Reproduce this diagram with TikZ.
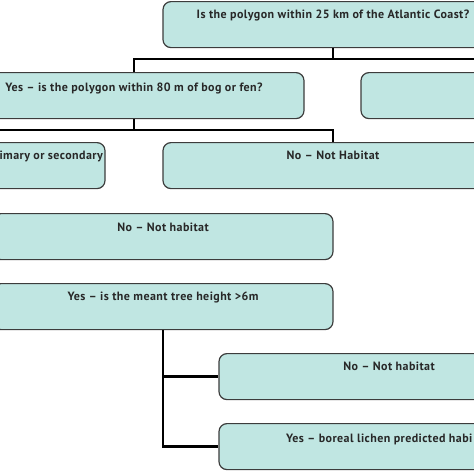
\documentclass[tikz,border=0pt]{standalone}
\usepackage{fontspec}
\setmainfont{PT Sans}[LetterSpace=3.5]
\definecolor{boxfill}{RGB}{192,230,226}
\definecolor{boxline}{RGB}{60,60,60}
\definecolor{txt}{RGB}{40,40,40}
\begin{document}
\begin{tikzpicture}[x=1pt,y=-1pt,
  box/.style={draw=boxline,line width=1.2pt,fill=boxfill,rounded corners=8pt,
    minimum width=340pt,minimum height=46pt,inner sep=0pt,anchor=north},
  lbl/.style={font=\bfseries\fontsize{12}{14}\selectfont,text=txt,inner sep=0pt},
  conn/.style={draw=black,line width=2.5pt}]
\useasboundingbox (0,0) rectangle (474,474);
\clip (0,0) rectangle (474,474);
% boxes
\node[box] (q1) at (333,1) {};
\node[box] (a2) at (134,72) {};
\node[box] (b2) at (531,72) {};
\node[box] (a3) at (-65,142) {};
\node[box] (b3) at (333,142) {};
\node[box] (a4) at (163,213) {};
\node[box] (a5) at (163,283) {};
\node[box] (b6) at (389,353) {};
\node[box] (b7) at (389,423) {};
% labels
\node[lbl,anchor=base] (t1) at (333,18) {Is the polygon within 25 km of the Atlantic Coast?};
\node[lbl,anchor=base] (t2) at (134,91) {Yes -- is the polygon within 80 m of bog or fen?};
\node[lbl,anchor=base east] (t3) at (103,159) {imary or secondary};
\node[lbl,anchor=base] (t4) at (333,159) {No -- Not Habitat};
\node[lbl,anchor=base] (t5) at (163,231) {No -- Not habitat};
\node[lbl,anchor=base] (t6) at (163,300) {Yes -- is the meant tree height {>}6m};
\node[lbl,anchor=base] (t7) at (389,370) {No -- Not habitat};
\node[lbl,anchor=base west] (t8) at (286,442) {Yes -- boreal lichen predicted habi};
% junctions
\coordinate (j1) at (333,59);
\coordinate (j2) at (134,130);
% connectors
\draw[conn] (q1.south) -- (j1);
\draw[conn] (a2.north) -- (a2.north |- j1) -- (b2.north |- j1) -- (b2.north);
\draw[conn] (a2.south) -- (j2);
\draw[conn] (a3.north) -- (a3.north |- j2) -- (b3.north |- j2) -- (b3.north);
\draw[conn] (a5.south) |- (b6.west);
\draw[conn] (a5.south) |- (b7.west);
\end{tikzpicture}
\end{document}
